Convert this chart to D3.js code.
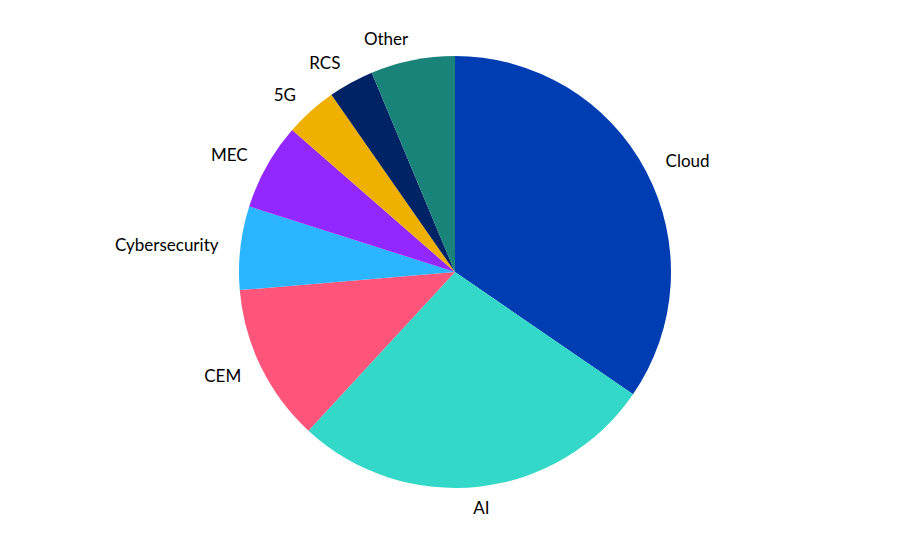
<!DOCTYPE html>
<html><head><meta charset="utf-8">
<script src="https://cdn.jsdelivr.net/npm/d3@7"></script>
<style>body{margin:0;background:#fff}</style>
</head><body>
<div id="chart"></div>
<script>
const categories = ["Cloud","AI","CEM","Cybersecurity","MEC","5G","RCS","Other"]
const shares = [34.6,27.3,11.8,6.25,6.5,3.9,3.4,6.3]
const colors = ["#003db3","#33d8c8","#ff557a","#2bb5ff","#9327ff","#f0b000","#002366","#19837a"]

const width = 909, height = 545, cx = 455, cy = 272, r = 216

const svg = d3.select("#chart").append("svg").attr("width", width).attr("height", height)
const g = svg.append("g").attr("transform", `translate(${cx},${cy})`)

const data = categories.map((c, i) => ({name: c, value: shares[i], color: colors[i]}))
const pie = d3.pie().value(d => d.value).sort(null)
const arcs = pie(data)

g.selectAll("path").data(arcs).enter().append("path")
  .attr("d", d3.arc().innerRadius(0).outerRadius(r))
  .attr("fill", d => d.data.color)

// labels outside the slices
g.selectAll("text").data(arcs).enter().append("text")
  .each(function(d){
    const a = (d.startAngle + d.endAngle) / 2
    const s = Math.sin(a), c = Math.cos(a)
    const lr = 238
    d3.select(this)
      .attr("x", s * lr).attr("y", -c * lr)
      .attr("text-anchor", s > 0.15 ? "start" : s < -0.15 ? "end" : "middle")
  })
  .attr("dy", "0.35em")
  .attr("font-family", "Lato, 'Open Sans', sans-serif")
  .attr("font-size", 17)
  .attr("fill", "#000")
  .text(d => d.data.name)
</script>
</body></html>
